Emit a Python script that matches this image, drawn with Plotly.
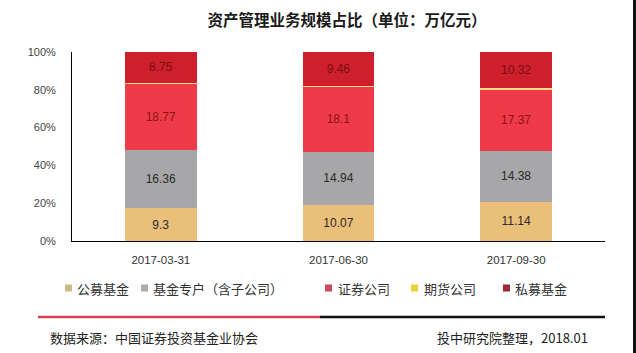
import plotly.graph_objects as go

# ---- data ----
categories = ["2017-03-31", "2017-06-30", "2017-09-30"]
series_names = ["公募基金", "基金专户（含子公司）", "证券公司", "期货公司", "私募基金"]
gongmu = [9.3, 10.07, 11.14]
zhuanhu = [16.36, 14.94, 14.38]
zhengquan = [18.77, 18.1, 17.37]
qihuo = [0.27, 0.28, 0.28]
simu = [8.75, 9.46, 10.32]
y_ticks = [0, 20, 40, 60, 80, 100]
y_tick_labels = ["0%", "20%", "40%", "60%", "80%", "100%"]

series_values = [gongmu, zhuanhu, zhengquan, qihuo, simu]
bar_colors = ["#EABF79", "#A7A7A9", "#EF3B49", "#F7DC86", "#CD1F2C"]
text_colors = ["#2a2a2a", "#2a2a2a", "#8a1414", "#8a1414", "#7a1010"]
show_text = [True, True, True, False, True]
legend_colors = ["#CDBB8B", "#ABABAB", "#CC4A60", "#E8D040", "#A02838"]

W, H = 636, 353
L, R, T, B = 72, 605, 52, 241  # plot area in pixels


def px(x):
    return (x - L) / (R - L)


def py(y):
    return (B - y) / (B - T)


fig = go.Figure()
for name, vals, col, tcol, st in zip(series_names, series_values, bar_colors, text_colors, show_text):
    fig.add_trace(go.Bar(
        x=categories, y=vals, name=name,
        marker=dict(color=col, line=dict(width=0)),
        text=[f"{v:g}" for v in vals] if st else None,
        textposition="inside" if st else "none",
        insidetextanchor="middle",
        textangle=0,
        textfont=dict(family="Liberation Sans, Arial", size=12, color=tcol),
        showlegend=False,
        hoverinfo="name+y",
    ))

shapes = []
annotations = []

# custom legend
leg_y = 288
sq_x = [65, 141, 325, 411, 503]
tx_x = [75, 151, 336, 422, 513]
for name, col, sx, tx in zip(series_names, legend_colors, sq_x, tx_x):
    shapes.append(dict(type="rect", xref="paper", yref="paper",
                       x0=px(sx), x1=px(sx + 7), y0=py(leg_y - 3.5), y1=py(leg_y + 3.5),
                       fillcolor=col, line=dict(width=0)))
    annotations.append(dict(text=name, xref="paper", yref="paper", x=px(tx), y=py(leg_y),
                            xanchor="left", yanchor="middle", showarrow=False,
                            font=dict(family="Noto Sans CJK SC", size=13, color="#333333")))

# footer line
line_y = 317
shapes.append(dict(type="line", xref="paper", yref="paper", x0=px(38), x1=px(320),
                   y0=py(line_y), y1=py(line_y), line=dict(color="#D9414F", width=2.5)))
shapes.append(dict(type="line", xref="paper", yref="paper", x0=px(320), x1=px(605),
                   y0=py(line_y), y1=py(line_y), line=dict(color="#111111", width=2.5)))

# dark stripe at right edge
shapes.append(dict(type="rect", xref="paper", yref="paper", x0=px(633), x1=px(640),
                   y0=py(0), y1=py(360), fillcolor="#111111", line=dict(width=0)))

foot_y = 337
annotations.append(dict(text="数据来源：中国证券投资基金业协会", xref="paper", yref="paper",
                        x=px(48), y=py(foot_y), xanchor="left", yanchor="middle", showarrow=False,
                        font=dict(family="Noto Sans CJK SC", size=13, color="#222222")))
annotations.append(dict(text="投中研究院整理，2018.01", xref="paper", yref="paper",
                        x=px(590), y=py(foot_y), xanchor="right", yanchor="middle", showarrow=False,
                        font=dict(family="Noto Sans CJK SC", size=13, color="#222222")))

fig.update_layout(
    width=W, height=H,
    margin=dict(l=L, r=W - R, t=T, b=H - B, pad=0),
    barmode="stack", barnorm="percent", bargap=0.595,
    paper_bgcolor="white", plot_bgcolor="white",
    title=dict(text="<b>资产管理业务规模占比（单位：万亿元）</b>", x=347 / W, y=1 - 21 / H,
               xanchor="center", yanchor="middle", xref="container", yref="container",
               font=dict(family="Noto Sans CJK SC", size=15.5, color="#1a1a1a")),
    xaxis=dict(type="category", showline=True, linecolor="#000000", linewidth=1, showgrid=False,
               ticks="",
               tickfont=dict(family="Liberation Sans, Arial", size=11.5, color="#333333"),
               ticklabelstandoff=8),
    yaxis=dict(range=[0, 100], tickvals=y_ticks, ticktext=y_tick_labels, showline=True,
               linecolor="#000000", linewidth=1, showgrid=False, ticks="", zeroline=False,
               tickfont=dict(family="Liberation Sans, Arial", size=11, color="#444444"),
               ticklabelstandoff=13),
    shapes=shapes, annotations=annotations,
    uniformtext=dict(minsize=8, mode="show"),
)

fig.write_html("out.html")
